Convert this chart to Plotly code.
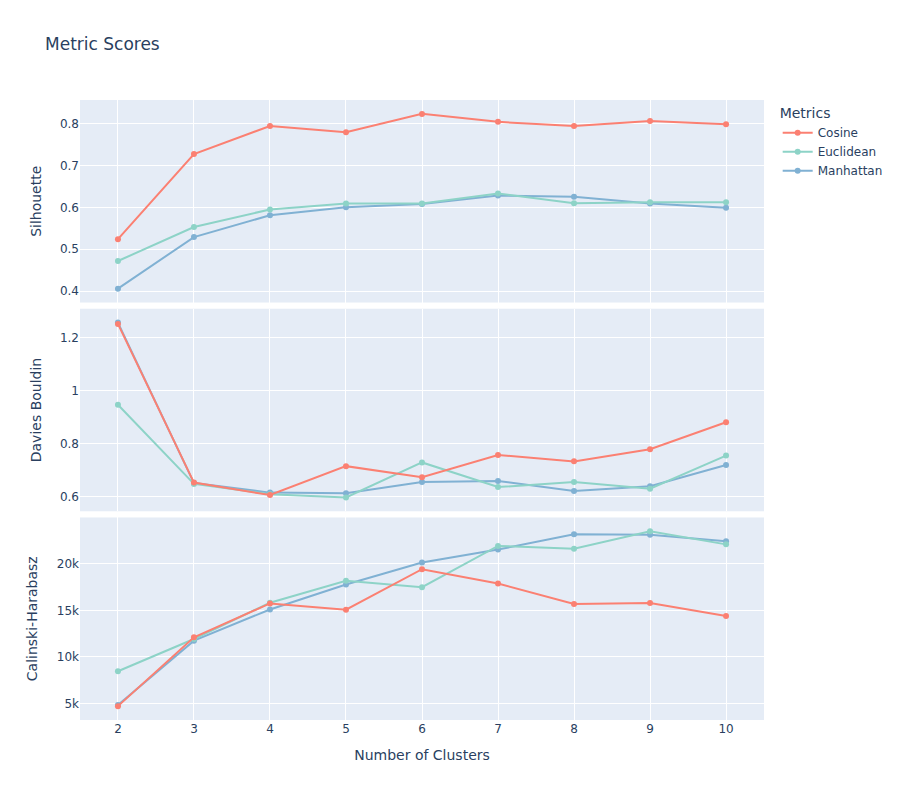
import plotly.graph_objects as go
from plotly.subplots import make_subplots

clusters = [2, 3, 4, 5, 6, 7, 8, 9, 10]

silhouette_cosine = [0.524, 0.727, 0.794, 0.779, 0.823, 0.804, 0.794, 0.806, 0.798]
silhouette_euclidean = [0.472, 0.553, 0.595, 0.609, 0.609, 0.633, 0.610, 0.612, 0.612]
silhouette_manhattan = [0.406, 0.529, 0.581, 0.600, 0.608, 0.628, 0.625, 0.609, 0.599]

davies_cosine = [1.252, 0.653, 0.606, 0.715, 0.673, 0.757, 0.733, 0.779, 0.881]
davies_euclidean = [0.947, 0.648, 0.609, 0.597, 0.729, 0.636, 0.655, 0.630, 0.755]
davies_manhattan = [1.257, 0.651, 0.615, 0.613, 0.655, 0.659, 0.621, 0.639, 0.719]

calinski_cosine = [4710, 12110, 15750, 15070, 19430, 17890, 15680, 15790, 14390]
calinski_euclidean = [8460, 11930, 15820, 18180, 17500, 21930, 21640, 23500, 22100]
calinski_manhattan = [4820, 11750, 15100, 17790, 20140, 21540, 23180, 23140, 22430]

metric_names = ["Cosine", "Euclidean", "Manhattan"]
colors = {"Cosine": "#FB8072", "Euclidean": "#8DD3C7", "Manhattan": "#80B1D3"}
row_titles = ["Silhouette", "Davies Bouldin", "Calinski-Harabasz"]

data = [
    {"Cosine": silhouette_cosine, "Euclidean": silhouette_euclidean, "Manhattan": silhouette_manhattan},
    {"Cosine": davies_cosine, "Euclidean": davies_euclidean, "Manhattan": davies_manhattan},
    {"Cosine": calinski_cosine, "Euclidean": calinski_euclidean, "Manhattan": calinski_manhattan},
]

fig = make_subplots(rows=3, cols=1, shared_xaxes=True, vertical_spacing=0.01)

draw_order = ["Manhattan", "Euclidean", "Cosine"]
for r, d in enumerate(data, start=1):
    for name in draw_order:
        fig.add_trace(
            go.Scatter(
                x=clusters, y=d[name], mode="lines+markers", name=name,
                legendgroup=name, showlegend=(r == 1),
                line=dict(color=colors[name], width=2),
                marker=dict(color=colors[name], size=6),
            ),
            row=r, col=1,
        )
    fig.update_yaxes(title_text=row_titles[r - 1], row=r, col=1)

fig.update_xaxes(type="category")
fig.update_xaxes(title_text="Number of Clusters", row=3, col=1)

fig.update_layout(
    title=dict(text="Metric Scores"),
    width=900, height=800,
    template="plotly",
    font=dict(family="Verdana, 'DejaVu Sans', sans-serif"),
    legend=dict(title=dict(text="Metrics"), traceorder="reversed"),
)

fig.write_html(
    "out.html",
    config={"displayModeBar": False},
    post_script="document.body.style.margin='0';",
)
